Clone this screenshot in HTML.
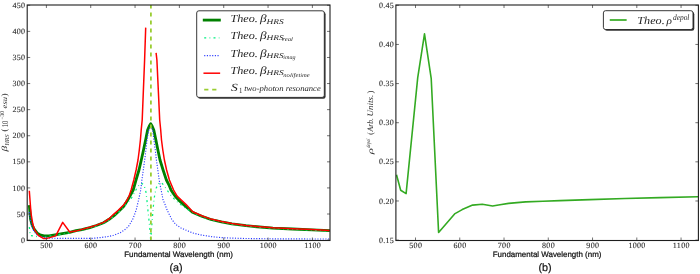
<!DOCTYPE html>
<html><head><meta charset="utf-8"><title>Figure</title>
<style>html,body{margin:0;padding:0;background:#fff;width:700px;height:274px;overflow:hidden}svg{display:block;}text{text-rendering:geometricPrecision}</style>
</head><body>
<svg width="700" height="274" viewBox="0 0 700 274">
<rect width="700" height="274" fill="#fff"/>
<defs><clipPath id="cl"><rect x="27.2" y="5.0" width="302.8" height="235.5"/></clipPath><clipPath id="cr"><rect x="395.9" y="5.0" width="302.5" height="235.5"/></clipPath></defs>
<g clip-path="url(#cl)" fill="none" stroke-linejoin="round">
<polyline points="29.30,205.20 30.50,219.00 32.00,224.60 33.80,228.60 37.20,233.20 40.00,234.80 44.00,235.80 49.10,235.80 55.00,234.80 62.20,233.60 69.70,232.30 76.00,230.70 81.90,229.60 89.80,227.60 96.40,225.50 103.60,222.80 109.50,219.00 114.00,215.70 118.50,211.50 123.80,206.30 127.70,200.00 130.50,195.00 133.20,190.00 136.00,180.00 139.00,170.00 141.30,160.00 143.50,150.00 145.60,140.00 147.60,130.00 149.30,126.00 150.70,123.80 152.10,126.00 153.80,130.00 155.90,140.00 157.90,150.00 160.00,160.00 163.10,170.00 166.40,180.00 169.30,185.70 171.00,190.00 173.30,193.50 175.60,196.80 179.00,200.40 183.70,204.80 192.40,212.30 201.70,216.30 210.90,219.50 221.40,221.90 231.90,223.90 246.00,225.70 253.10,226.40 272.90,228.10 292.60,229.00 312.30,229.80 329.90,230.70" stroke="#008000" stroke-width="2.8"/>
<polyline points="29.30,227.00 30.30,235.60 34.10,235.90 37.80,236.80 44.00,236.60 50.00,236.20 55.50,235.10 61.40,234.20 69.70,232.80 76.00,231.30 89.80,228.00 103.60,223.30 109.50,219.60 118.50,212.20 123.80,207.00 127.30,203.20 130.00,200.00 132.40,196.60 134.60,192.30 136.80,188.30 139.40,184.50 141.20,183.30 143.20,184.20 144.70,187.40 146.00,192.20 146.50,196.60 146.90,200.00 147.90,210.00 149.60,226.00 150.70,240.50 151.80,226.00 153.00,210.00 154.00,200.00 154.30,197.50 155.20,192.70 156.10,188.30 158.20,184.00 160.00,182.60 161.70,182.80 164.40,186.10 167.00,190.00 170.00,194.20 172.80,197.50 176.10,200.90 180.50,204.50 184.00,207.00 192.40,212.60 201.70,216.60 210.90,219.80 221.40,222.20 231.90,224.20 246.00,226.00 272.90,228.40 329.90,231.00" stroke="#00f080" stroke-width="1.25" stroke-dasharray="2 3.3 0.8 3.2"/>
<polyline points="29.30,212.00 30.50,221.00 32.00,227.00 34.00,231.50 37.00,234.80 40.50,236.60 44.00,237.30 51.30,238.20 60.00,238.40 91.80,238.40 100.30,237.60 108.20,236.50 113.50,235.30 120.30,232.70 124.70,229.80 128.60,226.30 131.20,221.90 133.10,218.50 136.20,210.00 138.60,200.00 140.70,190.00 141.90,180.00 143.30,170.00 144.70,160.00 145.90,150.00 147.00,140.00 148.40,131.00 150.70,125.80 152.90,131.00 153.90,140.00 155.30,150.00 156.40,160.00 157.80,170.00 159.20,180.00 160.70,188.00 161.60,192.30 163.10,200.00 165.30,205.00 166.90,209.60 168.30,212.50 171.70,219.30 175.80,224.50 181.00,228.00 188.00,231.00 192.60,232.90 201.70,235.10 212.20,236.80 225.40,237.90 245.00,238.50 280.00,238.90 331.00,239.00" stroke="#2838ff" stroke-width="1.15" stroke-dasharray="1.1 1.56"/>
<polyline points="29.30,190.70 30.60,208.00 31.30,215.00 32.80,224.00 34.50,229.70 38.30,235.30 43.70,238.60 47.20,238.40 55.70,235.90 62.70,222.40 69.70,232.00 76.00,231.10 81.90,229.40 89.80,227.30 96.40,225.10 103.60,222.40 109.50,218.50 113.30,214.60 118.50,210.00 123.80,204.80 126.70,200.50 129.10,196.00 131.10,190.00 133.80,180.00 136.10,170.00 138.00,160.00 139.30,150.00 140.40,140.00 141.20,130.00 142.20,120.00 144.60,60.00 145.70,27.60" stroke="#ff0000" stroke-width="1.5"/>
<polyline points="156.10,52.80 156.90,60.00 159.70,120.00 160.70,130.00 161.50,140.00 162.80,150.00 164.40,160.00 166.60,170.00 169.40,180.00 171.80,185.70 173.60,190.00 177.10,196.10 181.30,200.00 186.10,204.60 192.70,211.70 201.70,215.80 210.90,219.10 221.40,221.50 231.90,223.50 246.00,225.40 253.10,226.10 272.90,227.80 292.60,228.70 312.30,229.50 329.90,230.50" stroke="#ff0000" stroke-width="1.5"/>
<line x1="150.9" y1="4.4" x2="150.9" y2="241" stroke="#9acd32" stroke-width="1.8" stroke-dasharray="4.2 3.8"/>
</g>
<g clip-path="url(#cr)" fill="none" stroke-linejoin="round">
<polyline points="396.50,174.80 400.70,190.30 406.10,193.60 417.70,77.80 424.50,33.80 431.20,78.30 438.60,232.50 454.60,213.90 462.20,209.60 472.60,205.10 482.30,204.30 492.60,206.00 500.00,204.70 508.60,203.40 517.00,202.60 525.70,201.90 542.90,201.20 560.00,200.60 590.00,199.60 625.00,198.50 660.00,197.60 698.00,196.80" stroke="#33aa22" stroke-width="1.6"/>
</g>
<g stroke="#444" stroke-width="0.75" fill="none">
<line x1="46.40" y1="240.5" x2="46.40" y2="237.5"/>
<line x1="46.40" y1="5.0" x2="46.40" y2="8.0"/>
<line x1="90.73" y1="240.5" x2="90.73" y2="237.5"/>
<line x1="90.73" y1="5.0" x2="90.73" y2="8.0"/>
<line x1="135.06" y1="240.5" x2="135.06" y2="237.5"/>
<line x1="135.06" y1="5.0" x2="135.06" y2="8.0"/>
<line x1="179.39" y1="240.5" x2="179.39" y2="237.5"/>
<line x1="179.39" y1="5.0" x2="179.39" y2="8.0"/>
<line x1="223.72" y1="240.5" x2="223.72" y2="237.5"/>
<line x1="223.72" y1="5.0" x2="223.72" y2="8.0"/>
<line x1="268.05" y1="240.5" x2="268.05" y2="237.5"/>
<line x1="268.05" y1="5.0" x2="268.05" y2="8.0"/>
<line x1="312.38" y1="240.5" x2="312.38" y2="237.5"/>
<line x1="312.38" y1="5.0" x2="312.38" y2="8.0"/>
<line x1="27.2" y1="240.10" x2="30.2" y2="240.10"/>
<line x1="330.0" y1="240.10" x2="327.0" y2="240.10"/>
<line x1="27.2" y1="214.01" x2="30.2" y2="214.01"/>
<line x1="330.0" y1="214.01" x2="327.0" y2="214.01"/>
<line x1="27.2" y1="187.92" x2="30.2" y2="187.92"/>
<line x1="330.0" y1="187.92" x2="327.0" y2="187.92"/>
<line x1="27.2" y1="161.83" x2="30.2" y2="161.83"/>
<line x1="330.0" y1="161.83" x2="327.0" y2="161.83"/>
<line x1="27.2" y1="135.74" x2="30.2" y2="135.74"/>
<line x1="330.0" y1="135.74" x2="327.0" y2="135.74"/>
<line x1="27.2" y1="109.65" x2="30.2" y2="109.65"/>
<line x1="330.0" y1="109.65" x2="327.0" y2="109.65"/>
<line x1="27.2" y1="83.56" x2="30.2" y2="83.56"/>
<line x1="330.0" y1="83.56" x2="327.0" y2="83.56"/>
<line x1="27.2" y1="57.47" x2="30.2" y2="57.47"/>
<line x1="330.0" y1="57.47" x2="327.0" y2="57.47"/>
<line x1="27.2" y1="31.38" x2="30.2" y2="31.38"/>
<line x1="330.0" y1="31.38" x2="327.0" y2="31.38"/>
<line x1="27.2" y1="5.29" x2="30.2" y2="5.29"/>
<line x1="330.0" y1="5.29" x2="327.0" y2="5.29"/>
<line x1="415.50" y1="240.5" x2="415.50" y2="237.5"/>
<line x1="415.50" y1="5.0" x2="415.50" y2="8.0"/>
<line x1="459.76" y1="240.5" x2="459.76" y2="237.5"/>
<line x1="459.76" y1="5.0" x2="459.76" y2="8.0"/>
<line x1="504.02" y1="240.5" x2="504.02" y2="237.5"/>
<line x1="504.02" y1="5.0" x2="504.02" y2="8.0"/>
<line x1="548.28" y1="240.5" x2="548.28" y2="237.5"/>
<line x1="548.28" y1="5.0" x2="548.28" y2="8.0"/>
<line x1="592.54" y1="240.5" x2="592.54" y2="237.5"/>
<line x1="592.54" y1="5.0" x2="592.54" y2="8.0"/>
<line x1="636.80" y1="240.5" x2="636.80" y2="237.5"/>
<line x1="636.80" y1="5.0" x2="636.80" y2="8.0"/>
<line x1="681.06" y1="240.5" x2="681.06" y2="237.5"/>
<line x1="681.06" y1="5.0" x2="681.06" y2="8.0"/>
<line x1="395.9" y1="240.10" x2="398.9" y2="240.10"/>
<line x1="698.4" y1="240.10" x2="695.4" y2="240.10"/>
<line x1="395.9" y1="200.97" x2="398.9" y2="200.97"/>
<line x1="698.4" y1="200.97" x2="695.4" y2="200.97"/>
<line x1="395.9" y1="161.84" x2="398.9" y2="161.84"/>
<line x1="698.4" y1="161.84" x2="695.4" y2="161.84"/>
<line x1="395.9" y1="122.71" x2="398.9" y2="122.71"/>
<line x1="698.4" y1="122.71" x2="695.4" y2="122.71"/>
<line x1="395.9" y1="83.58" x2="398.9" y2="83.58"/>
<line x1="698.4" y1="83.58" x2="695.4" y2="83.58"/>
<line x1="395.9" y1="44.45" x2="398.9" y2="44.45"/>
<line x1="698.4" y1="44.45" x2="695.4" y2="44.45"/>
<line x1="395.9" y1="5.32" x2="398.9" y2="5.32"/>
<line x1="698.4" y1="5.32" x2="695.4" y2="5.32"/>
</g>
<g stroke="#1e1e1e" stroke-width="1.1" fill="none">
<rect x="27.2" y="5.0" width="302.80" height="235.50"/>
<rect x="395.9" y="5.0" width="302.50" height="235.50"/>
</g>
<g font-family='"Liberation Serif", "DejaVu Serif", serif' font-size="8" fill="#2a2a2a" stroke="#2a2a2a" stroke-width="0.1" letter-spacing="0.3">
<text x="46.65" y="248.3" text-anchor="middle">500</text>
<text x="90.98" y="248.3" text-anchor="middle">600</text>
<text x="135.31" y="248.3" text-anchor="middle">700</text>
<text x="179.64" y="248.3" text-anchor="middle">800</text>
<text x="223.97" y="248.3" text-anchor="middle">900</text>
<text x="268.30" y="248.3" text-anchor="middle">1000</text>
<text x="312.63" y="248.3" text-anchor="middle">1100</text>
<text x="25.40" y="242.70" text-anchor="end">0</text>
<text x="25.40" y="216.61" text-anchor="end">50</text>
<text x="25.40" y="190.52" text-anchor="end">100</text>
<text x="25.40" y="164.43" text-anchor="end">150</text>
<text x="25.40" y="138.34" text-anchor="end">200</text>
<text x="25.40" y="112.25" text-anchor="end">250</text>
<text x="25.40" y="86.16" text-anchor="end">300</text>
<text x="25.40" y="60.07" text-anchor="end">350</text>
<text x="25.40" y="33.98" text-anchor="end">400</text>
<text x="25.40" y="7.89" text-anchor="end">450</text>
<text x="415.75" y="248.3" text-anchor="middle">500</text>
<text x="460.01" y="248.3" text-anchor="middle">600</text>
<text x="504.27" y="248.3" text-anchor="middle">700</text>
<text x="548.53" y="248.3" text-anchor="middle">800</text>
<text x="592.79" y="248.3" text-anchor="middle">900</text>
<text x="637.05" y="248.3" text-anchor="middle">1000</text>
<text x="681.31" y="248.3" text-anchor="middle">1100</text>
<text x="394.10" y="242.70" text-anchor="end">0.15</text>
<text x="394.10" y="203.57" text-anchor="end">0.20</text>
<text x="394.10" y="164.44" text-anchor="end">0.25</text>
<text x="394.10" y="125.31" text-anchor="end">0.30</text>
<text x="394.10" y="86.18" text-anchor="end">0.35</text>
<text x="394.10" y="47.05" text-anchor="end">0.40</text>
<text x="394.10" y="7.92" text-anchor="end">0.45</text>
</g>
<g font-family='"Liberation Sans", Arial, sans-serif' font-size="7.95" fill="#111" stroke="#111" stroke-width="0.22" text-anchor="middle">
<text x="178.6" y="257.2">Fundamental Wavelength (nm)</text>
<text x="547.1" y="257.2">Fundamental Wavelength (nm)</text>
</g>
<g font-family='"Liberation Sans", Arial, sans-serif' font-size="10.8" fill="#111" stroke="#111" stroke-width="0.2" text-anchor="middle">
<text x="176" y="271">(a)</text>
<text x="545" y="271">(b)</text>
</g>
<g font-family='"Liberation Serif", "DejaVu Serif", serif' fill="#2a2a2a">
<text transform="translate(7.3,0) rotate(-90)" x="-151.60" y="0" font-size="7.6" font-style="italic" textLength="5.80" lengthAdjust="spacingAndGlyphs">β</text>
<text transform="translate(7.3,0) rotate(-90)" x="-145.60" y="1.2" font-size="6.0" font-style="italic" textLength="11.00" lengthAdjust="spacingAndGlyphs">HRS</text>
<text transform="translate(7.3,0) rotate(-90)" x="-131.60" y="0" font-size="8.3" textLength="2.80" lengthAdjust="spacingAndGlyphs">(</text>
<text transform="translate(7.3,0) rotate(-90)" x="-127.20" y="0.2" font-size="8.8" textLength="6.60" lengthAdjust="spacingAndGlyphs">10</text>
<text transform="translate(7.3,0) rotate(-90)" x="-119.50" y="-3.0" font-size="5.8" textLength="8.50" lengthAdjust="spacingAndGlyphs">−30</text>
<text transform="translate(7.3,0) rotate(-90)" x="-108.40" y="0" font-size="7.4" font-style="italic" textLength="11.40" lengthAdjust="spacingAndGlyphs">esu</text>
<text transform="translate(7.3,0) rotate(-90)" x="-96.60" y="0" font-size="8.3" textLength="3.20" lengthAdjust="spacingAndGlyphs">)</text>
<text transform="translate(373.3,0) rotate(-90)" x="-154.20" y="0" font-size="7.4" font-style="italic" textLength="6.20" lengthAdjust="spacingAndGlyphs">ρ</text>
<text transform="translate(373.3,0) rotate(-90)" x="-147.80" y="-3.2" font-size="5.8" font-style="italic" textLength="9.20" lengthAdjust="spacingAndGlyphs">depol</text>
<text transform="translate(373.3,0) rotate(-90)" x="-134.80" y="0" font-size="8.3" textLength="2.60" lengthAdjust="spacingAndGlyphs">(</text>
<text transform="translate(373.3,0) rotate(-90)" x="-131.40" y="0" font-size="8.3" font-style="italic" textLength="13.20" lengthAdjust="spacingAndGlyphs">Arb.</text>
<text transform="translate(373.3,0) rotate(-90)" x="-116.40" y="0" font-size="8.3" font-style="italic" textLength="21.60" lengthAdjust="spacingAndGlyphs">Units.</text>
<text transform="translate(373.3,0) rotate(-90)" x="-93.40" y="0" font-size="8.3" textLength="3.00" lengthAdjust="spacingAndGlyphs">)</text>
</g>
<rect x="198.0" y="12.100000000000001" width="127.6" height="86.6" rx="2.2" fill="#333"/><rect x="196.7" y="10.8" width="127.6" height="86.6" rx="2.2" fill="#fff" stroke="#222" stroke-width="0.9"/>
<rect x="604.6999999999999" y="12.0" width="89.6" height="18.8" rx="2.2" fill="#333"/><rect x="603.4" y="10.7" width="89.6" height="18.8" rx="2.2" fill="#fff" stroke="#222" stroke-width="0.9"/>
<g fill="none">
<line x1="204.2" y1="20.1" x2="219.4" y2="20.1" stroke="#008000" stroke-width="2.8" stroke-linecap="square"/>
<line x1="204.2" y1="37.8" x2="219.4" y2="37.8" stroke="#00f080" stroke-width="1.25" stroke-dasharray="2 3.3 0.8 3.2"/>
<line x1="204.2" y1="55.6" x2="219.4" y2="55.6" stroke="#2838ff" stroke-width="1.15" stroke-dasharray="1.1 1.56"/>
<line x1="204.2" y1="73.2" x2="219.4" y2="73.2" stroke="#ff0000" stroke-width="1.5" stroke-linecap="square"/>
<line x1="204.2" y1="89.6" x2="219.4" y2="89.6" stroke="#9acd32" stroke-width="1.8" stroke-dasharray="4.2 3.8"/>
<line x1="610.6" y1="20" x2="625.8" y2="20" stroke="#33aa22" stroke-width="1.7" stroke-linecap="square"/>
</g>
<g font-family='"Liberation Serif", "DejaVu Serif", serif' fill="#262626">
<text x="230.4" y="22.4" font-size="10.9" font-style="italic" textLength="27.4" lengthAdjust="spacingAndGlyphs">Theo.</text>
<text x="260.0" y="22.4" font-size="10.9" font-style="italic" textLength="6.6" lengthAdjust="spacingAndGlyphs">β</text>
<text x="266.6" y="23.7" font-size="7.4" font-style="italic" textLength="17.2" lengthAdjust="spacingAndGlyphs">HRS</text>
<text x="230.4" y="38.5" font-size="10.9" font-style="italic" textLength="27.4" lengthAdjust="spacingAndGlyphs">Theo.</text>
<text x="260.0" y="38.5" font-size="10.9" font-style="italic" textLength="6.6" lengthAdjust="spacingAndGlyphs">β</text>
<text x="266.6" y="39.8" font-size="7.4" font-style="italic" textLength="17.2" lengthAdjust="spacingAndGlyphs">HRS</text>
<text x="282.3" y="41.3" font-size="5.6" font-style="italic" textLength="10.6" lengthAdjust="spacingAndGlyphs">real</text>
<text x="230.4" y="56.6" font-size="10.9" font-style="italic" textLength="27.4" lengthAdjust="spacingAndGlyphs">Theo.</text>
<text x="260.0" y="56.6" font-size="10.9" font-style="italic" textLength="6.6" lengthAdjust="spacingAndGlyphs">β</text>
<text x="266.6" y="57.9" font-size="7.4" font-style="italic" textLength="17.2" lengthAdjust="spacingAndGlyphs">HRS</text>
<text x="283.3" y="59.4" font-size="5.6" font-style="italic" textLength="12.2" lengthAdjust="spacingAndGlyphs">imag</text>
<text x="230.4" y="73.9" font-size="10.9" font-style="italic" textLength="27.4" lengthAdjust="spacingAndGlyphs">Theo.</text>
<text x="260.0" y="73.9" font-size="10.9" font-style="italic" textLength="6.6" lengthAdjust="spacingAndGlyphs">β</text>
<text x="266.6" y="75.2" font-size="7.4" font-style="italic" textLength="17.2" lengthAdjust="spacingAndGlyphs">HRS</text>
<text x="283.3" y="76.60000000000001" font-size="5.6" font-style="italic" textLength="26.5" lengthAdjust="spacingAndGlyphs">nolifetime</text>
<text x="231.0" y="91.4" font-size="10.9" font-style="italic" textLength="6.8" lengthAdjust="spacingAndGlyphs">S</text>
<text x="238.9" y="92.6" font-size="7.9" textLength="3.4" lengthAdjust="spacingAndGlyphs">1</text>
<text x="244.2" y="91.4" font-size="8.0" font-style="italic" textLength="76.6" lengthAdjust="spacingAndGlyphs">two-photon resonance</text>
<text x="637.3" y="23.9" font-size="10.9" font-style="italic" textLength="27.4" lengthAdjust="spacingAndGlyphs">Theo.</text>
<text x="666.4" y="23.9" font-size="10.2" font-style="italic" textLength="5.4" lengthAdjust="spacingAndGlyphs">ρ</text>
<text x="673.0" y="19.8" font-size="8.2" font-style="italic" textLength="16.4" lengthAdjust="spacingAndGlyphs">depol</text>
</g>
</svg>
</body></html>
